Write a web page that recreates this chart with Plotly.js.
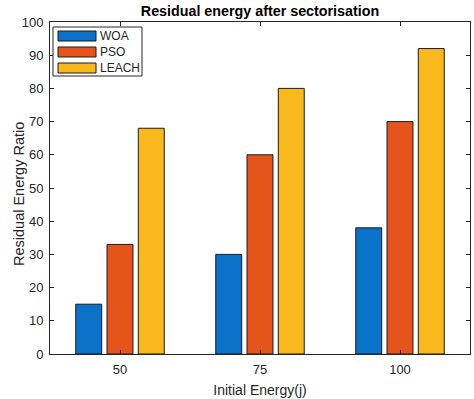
<!DOCTYPE html>
<html><head><meta charset="utf-8">
<script src="https://cdn.plot.ly/plotly-3.0.1.min.js"></script>
<style>html,body{margin:0;padding:0;background:#fff}#c{width:474px;height:399px}</style>
</head><body><div id="c"></div>
<script>
const categories = ['50', '75', '100'];
const seriesNames = ['WOA', 'PSO', 'LEACH'];
const woa = [15, 30, 38];
const pso = [33, 60, 70];
const leach = [68, 80, 92];
const yTicks = [0, 10, 20, 30, 40, 50, 60, 70, 80, 90, 100];
const colors = ['#0B72C9', '#E4541B', '#F9B91E'];

const values = [woa, pso, leach];
const xs = [1, 2, 3];
const traces = values.map((v, i) => ({
  type: 'bar', x: xs, y: v, name: seriesNames[i],
  marker: {color: colors[i], line: {color: '#1a1a1a', width: 1}},
  showlegend: false, hoverinfo: 'none'
}));

// pixel helpers for custom legend (plot area: x 50..470, y 22..354)
const L = 50, R = 4, T = 22, B = 45, W = 474, H = 399;
const pw = W - L - R, ph = H - T - B;
const px = x => (x - L) / pw;
const py = y => (H - B - y) / ph;

const shapes = [{type: 'rect', xref: 'paper', yref: 'paper',
  x0: px(53), x1: px(142), y0: py(76), y1: py(27),
  line: {color: '#262626', width: 1}, fillcolor: '#ffffff', layer: 'above'}];
const annotations = [];
seriesNames.forEach((n, i) => {
  const top = 31 + i * 16;
  shapes.push({type: 'rect', xref: 'paper', yref: 'paper',
    x0: px(58), x1: px(96), y0: py(top + 10), y1: py(top),
    line: {color: '#1a1a1a', width: 1}, fillcolor: colors[i], layer: 'above'});
  annotations.push({xref: 'paper', yref: 'paper', x: px(98), y: py(top + 5),
    xanchor: 'left', yanchor: 'middle', text: n, showarrow: false,
    font: {size: 12, color: '#262626'}});
});
// y axis title placed as rotated text
annotations.push({xref: 'paper', yref: 'paper', x: px(19), y: py(194),
  xanchor: 'center', yanchor: 'middle', textangle: -90, showarrow: false,
  text: 'Residual Energy Ratio', font: {size: 14.5, color: '#262626'}});

const layout = {
  width: W, height: H,
  margin: {l: L, r: R, t: T, b: B, pad: 0},
  paper_bgcolor: '#ffffff', plot_bgcolor: '#ffffff',
  font: {family: 'Liberation Sans, Arial, sans-serif', color: '#262626'},
  title: {text: '<b>Residual energy after sectorisation</b>', xref: 'paper', x: 0.5, xanchor: 'center',
    y: 0.972, yanchor: 'middle', font: {size: 14.3, color: '#000000'}},
  barmode: 'group', bargap: 0.33, bargroupgap: 0.17,
  xaxis: {range: [0.5, 3.5], tickvals: xs, ticktext: categories,
    ticks: 'inside', ticklen: 4, tickcolor: '#262626', showline: true, linecolor: '#262626',
    linewidth: 1, mirror: 'ticks', showgrid: false, zeroline: false,
    ticklabelstandoff: 3,
    tickfont: {size: 13, color: '#262626'},
    title: {text: 'Initial Energy(j)', font: {size: 14, color: '#262626'}, standoff: 9}},
  yaxis: {range: [0, 100], tickvals: yTicks, ticks: 'inside', ticklen: 4, tickcolor: '#262626',
    showline: true, linecolor: '#262626', linewidth: 1, mirror: 'ticks',
    showgrid: false, zeroline: false, tickfont: {size: 13, color: '#262626'},
    ticklabelstandoff: 3},
  shapes: shapes, annotations: annotations
};
Plotly.newPlot('c', traces, layout, {displayModeBar: false, staticPlot: true});
</script></body></html>
